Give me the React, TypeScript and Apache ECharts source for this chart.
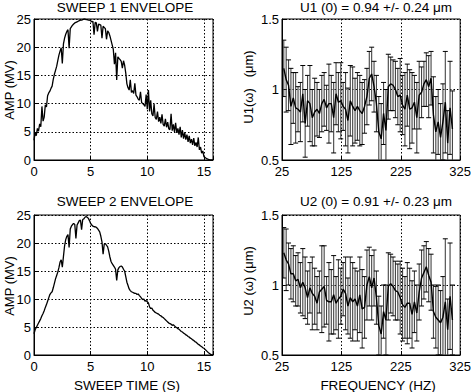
import React, { useEffect, useRef } from "react";
import * as echarts from "echarts";

// ---- data ----
const SWEEP_STEP = 0.1; // seconds between envelope samples
const sweep1Amp = [
  3.5, 4.8, 4.3, 5.6, 5.1, 6.4, 5.9, 9.5, 6.9, 7.6,
  9.8, 9.4, 11.4, 11.9, 12.2, 12.7, 13.1, 14.3, 15.2, 15.9,
  16.6, 17.6, 18.6, 19.3, 19.9, 17.1, 20.6, 21.6, 22.3, 22.8,
  23.1, 19.8, 23.3, 23.6, 23.9, 24.1, 24.3, 24.4, 24.5, 24.6,
  24.7, 24.8, 24.8, 24.9, 25.0, 25.0, 24.9, 24.9, 24.8, 24.8,
  24.7, 24.5, 24.6, 22.2, 24.4, 24.3, 22.8, 24.1, 24.0, 23.9,
  21.6, 23.7, 23.5, 23.3, 21.4, 22.9, 22.6, 22.0, 21.2, 20.4,
  19.6, 17.0, 19.0, 14.2, 18.3, 18.0, 17.8, 17.5, 16.3, 17.6,
  16.8, 15.4, 13.5, 12.8, 12.4, 14.2, 12.0, 12.3, 11.8, 13.6,
  11.5, 11.2, 10.8, 10.6, 12.1, 10.2, 10.0, 9.8, 9.5, 11.6,
  9.0, 12.4, 8.6, 10.6, 8.2, 7.8, 9.9, 7.5, 7.2, 8.6,
  6.8, 7.6, 6.5, 8.1, 6.3, 6.0, 7.3, 5.8, 6.7, 5.5,
  5.4, 8.2, 5.2, 6.3, 5.0, 6.6, 4.8, 5.6, 4.5, 5.9,
  4.0, 5.3, 3.8, 4.9, 3.6, 4.5, 3.2, 4.3, 3.0, 3.7,
  2.7, 3.9, 2.5, 3.1, 2.3, 4.0, 1.8, 2.3, 1.2, 1.6,
  0.6, 0.45, 0.3, 0.2, 0.12, 0.06, 0.03, 0.01, 0.0,
];
const sweep2Amp = [
  3.8, 4.5, 4.9, 5.3, 5.7, 6.1, 6.5, 7.0, 7.4, 7.9,
  8.5, 9.0, 9.6, 10.2, 10.8, 11.1, 11.3, 12.0, 12.8, 13.6,
  14.2, 14.8, 15.6, 16.6, 17.0, 15.7, 17.6, 19.5, 20.6, 21.2,
  21.5, 19.2, 22.5, 23.0, 23.3, 23.5, 23.3, 20.8, 23.2, 23.6,
  24.0, 24.1, 22.4, 24.2, 24.3, 24.6, 24.7, 24.6, 24.4, 24.0,
  23.5, 23.2, 23.0, 22.9, 22.9, 22.8, 22.6, 22.3, 22.0, 21.2,
  20.2, 18.0, 19.8, 19.9, 19.6, 19.3, 18.5, 17.5, 16.7, 16.3,
  16.0, 15.7, 15.3, 13.3, 15.2, 15.6, 15.8, 15.9, 15.7, 15.3,
  15.0, 14.0, 13.0, 12.4, 11.8, 11.5, 11.3, 11.2, 11.1, 11.0,
  11.0, 10.8, 10.9, 10.6, 10.4, 10.1, 9.9, 10.0, 9.6, 9.7,
  9.5, 9.3, 8.6, 8.3, 8.4, 8.0, 7.8, 7.6, 7.5, 7.4,
  7.3, 7.1, 7.0, 6.8, 6.7, 6.5, 6.3, 6.1, 5.9, 5.7,
  5.6, 5.5, 5.3, 5.4, 5.2, 5.0, 4.9, 4.7, 4.6, 4.4,
  4.2, 4.1, 3.9, 3.8, 3.6, 3.5, 3.3, 3.2, 3.0, 2.9,
  2.7, 2.6, 2.4, 2.3, 2.1, 1.9, 1.8, 1.6, 1.5, 1.3,
  1.2, 1.0, 0.8, 0.6, 0.4, 0.25, 0.1, 0.0, 0.0,
];

const freqHz = [
  28, 32, 36, 40, 44, 48, 52, 56, 60, 64, 68, 72, 76, 80, 84, 88, 92, 96,
  100, 104, 108, 112, 116, 120, 124, 128, 132, 136, 140, 144, 148, 152, 156,
  160, 164, 168, 172, 176, 180, 184, 188, 192, 196, 200, 204, 208, 212, 216,
  220, 224, 228, 232, 236, 240, 244, 248, 252, 256, 260, 264, 268, 272, 276,
  280, 284, 288, 292, 296, 300, 304, 308, 312,
];
const u1Mean = [
  1.15, 1.07, 1.03, 0.88, 0.94, 0.87, 0.86, 0.84, 0.97, 0.76,
  0.92, 0.9, 0.8, 0.84, 0.86, 0.83, 0.9, 0.93, 0.87, 0.9,
  0.9, 0.8, 0.97, 0.91, 0.92, 0.88, 0.86, 0.78, 0.92, 0.88,
  0.85, 0.88, 0.85, 0.83, 0.88, 0.95, 1.08, 1.11, 1.02, 0.9,
  0.7, 0.65, 0.83, 0.71, 1.02, 1.04, 1.03, 1.0, 0.95, 0.96,
  0.89, 0.86, 0.96, 0.86, 0.87, 0.91, 0.8, 0.96, 0.98, 1.04,
  1.07, 1.02, 1.08, 0.82, 0.7, 0.77, 0.66, 0.77, 0.91, 0.62,
  0.87, 0.72,
];
const u1Err = [
  0.2, 0.23, 0.18, 0.27, 0.18, 0.25, 0.16, 0.21, 0.2, 0.24,
  0.18, 0.27, 0.2, 0.24, 0.19, 0.17, 0.2, 0.19, 0.16, 0.28,
  0.2, 0.25, 0.22, 0.21, 0.27, 0.17, 0.26, 0.23, 0.25, 0.28,
  0.23, 0.24, 0.25, 0.22, 0.19, 0.2, 0.19, 0.19, 0.18, 0.2,
  0.25, 0.25, 0.22, 0.29, 0.23, 0.19, 0.18, 0.2, 0.2, 0.26,
  0.21, 0.26, 0.22, 0.28, 0.25, 0.19, 0.25, 0.24, 0.18, 0.16,
  0.19, 0.22, 0.19, 0.27, 0.25, 0.23, 0.24, 0.27, 0.36, 0.23,
  0.33, 0.27,
];
const u2Mean = [
  1.23, 1.18, 1.15, 1.08, 1.08, 1.03, 1.04, 0.98, 1.02, 0.98,
  0.91, 0.98, 0.94, 0.92, 0.87, 0.95, 0.97, 0.99, 0.89, 0.88,
  0.88, 0.93, 0.87, 0.9, 0.92, 0.97, 0.94, 0.85, 0.91, 0.88,
  0.9, 0.85, 0.93, 0.83, 0.84, 1.0, 1.06, 0.98, 1.05, 0.91,
  0.71, 0.65, 0.81, 0.75, 0.99, 1.01, 0.99, 0.96, 0.95, 0.91,
  0.86, 0.84, 0.87, 0.87, 0.79, 0.88, 0.8, 0.95, 1.05, 1.09,
  1.13, 1.07, 1.02, 0.81, 0.77, 0.75, 0.73, 0.77, 0.88, 0.68,
  0.92, 0.75,
];
const u2Err = [
  0.18, 0.22, 0.15, 0.18, 0.2, 0.18, 0.19, 0.18, 0.24, 0.22,
  0.19, 0.18, 0.26, 0.2, 0.19, 0.15, 0.31, 0.29, 0.17, 0.28,
  0.23, 0.28, 0.19, 0.28, 0.2, 0.19, 0.26, 0.2, 0.29, 0.28,
  0.22, 0.25, 0.27, 0.28, 0.22, 0.25, 0.21, 0.23, 0.2, 0.19,
  0.21, 0.2, 0.19, 0.25, 0.24, 0.21, 0.21, 0.21, 0.2, 0.26,
  0.26, 0.22, 0.29, 0.25, 0.24, 0.22, 0.2, 0.2, 0.2, 0.19,
  0.18, 0.19, 0.2, 0.19, 0.22, 0.25, 0.23, 0.29, 0.45, 0.22,
  0.38, 0.25,
];

const SWEEP_MAX = 15.8;
const FREQ_MIN = 25;
const FREQ_MAX = 325;

const FONT = "'Liberation Sans', Arial, Helvetica, sans-serif";

const titles = [
  { text: "SWEEP 1 ENVELOPE", x: 125, y: 7 },
  { text: "U1 (0) = 0.94 +/- 0.24 μm", x: 376, y: 7 },
  { text: "SWEEP 2 ENVELOPE", x: 125, y: 201 },
  { text: "U2 (0) = 0.91 +/- 0.23 μm", x: 376, y: 201 },
];
const yNames = [
  { text: "AMP (MV)", x: 9, y: 90 },
  { text: "U1(ω)   (μm)", x: 248, y: 87 },
  { text: "AMP (MV)", x: 9, y: 286 },
  { text: "U2 (ω) (μm)", x: 248, y: 281 },
];
const xNames = [
  { text: "SWEEP TIME (S)", x: 127, y: 385 },
  { text: "FREQUENCY (HZ)", x: 378, y: 385 },
];

const grids = [
  { left: 34, top: 19, width: 179, height: 141 },
  { left: 282, top: 19, width: 181, height: 141 },
  { left: 34, top: 215, width: 179, height: 140 },
  { left: 282, top: 215, width: 181, height: 140 },
];

function envData(arr: number[]) {
  return arr.map((v, i) => [+(i * SWEEP_STEP).toFixed(1), v]);
}

function errData(mean: number[], err: number[]) {
  return freqHz.map((f, i) => [f - FREQ_MIN, mean[i] - err[i], mean[i] + err[i]]);
}
function meanData(mean: number[]) {
  return freqHz.map((f, i) => [f - FREQ_MIN, mean[i]]);
}

function renderErr(params: any, api: any) {
  const x = api.value(0);
  const lo = api.coord([x, api.value(1)]);
  const hi = api.coord([x, api.value(2)]);
  const w = 2.5;
  return {
    type: "group",
    children: [
      {
        type: "line",
        shape: { x1: lo[0], y1: lo[1], x2: hi[0], y2: hi[1] },
        style: { stroke: "#444", lineWidth: 1.1 },
      },
      {
        type: "line",
        shape: { x1: hi[0] - w, y1: hi[1], x2: hi[0] + w, y2: hi[1] },
        style: { stroke: "#000", lineWidth: 1 },
      },
      {
        type: "line",
        shape: { x1: lo[0] - w, y1: lo[1], x2: lo[0] + w, y2: lo[1] },
        style: { stroke: "#000", lineWidth: 1 },
      },
    ],
  };
}

const gridLine = { show: true, lineStyle: { color: "#000", width: 1, type: [1.5, 2] as any } };
const axisCommon = {
  axisLine: { show: true, lineStyle: { color: "#000", width: 1 } },
  axisTick: { show: true, inside: true, length: 4, lineStyle: { color: "#000" } },
  splitLine: gridLine,
};
const labelCommon = { color: "#000", fontSize: 13, fontFamily: FONT };

export default function App() {
  const ref = useRef<HTMLDivElement>(null);
  useEffect(() => {
    document.body.style.margin = "0";
    if (!ref.current) return;
    const chart = echarts.init(ref.current, undefined, { renderer: "svg" });

    const sweepX = (gi: number) => ({
      type: "value",
      gridIndex: gi,
      min: 0,
      max: SWEEP_MAX,
      interval: 5,
      ...axisCommon,
      axisLabel: {
        ...labelCommon,
        margin: 5,
        formatter: (v: number) => (Math.abs(v % 5) < 1e-6 ? String(v) : ""),
      },
    });
    const freqX = (gi: number) => ({
      type: "value",
      gridIndex: gi,
      min: 0,
      max: FREQ_MAX - FREQ_MIN,
      interval: 100,
      ...axisCommon,
      axisLabel: {
        ...labelCommon,
        margin: 5,
        formatter: (v: number) => String(v + FREQ_MIN),
      },
    });
    const ampY = (gi: number) => ({
      type: "value",
      gridIndex: gi,
      min: 0,
      max: 25,
      interval: 5,
      ...axisCommon,
      axisLabel: { ...labelCommon, margin: 3 },
    });
    const uY = (gi: number) => ({
      type: "value",
      gridIndex: gi,
      min: 0.5,
      max: 1.5,
      interval: 0.5,
      ...axisCommon,
      axisLabel: { ...labelCommon, margin: 3 },
    });

    const textEl = (t: { text: string; x: number; y: number }, rot = 0, size = 13) => ({
      type: "text",
      x: t.x,
      y: t.y,
      rotation: rot,
      style: {
        text: t.text,
        fill: "#000",
        font: `${size}px ${FONT}`,
        textAlign: "center",
        textVerticalAlign: "middle",
      },
    });

    chart.setOption({
      animation: false,
      backgroundColor: "#fff",
      grid: grids.map((g) => ({ ...g, show: true, borderColor: "#000", borderWidth: 1, backgroundColor: "transparent" })),
      xAxis: [sweepX(0), freqX(1), sweepX(2), freqX(3)],
      yAxis: [ampY(0), uY(1), ampY(2), uY(3)],
      series: [
        {
          type: "line",
          xAxisIndex: 0,
          yAxisIndex: 0,
          data: envData(sweep1Amp),
          symbol: "none",
          lineStyle: { color: "#000", width: 1.3 },
        },
        {
          type: "custom",
          xAxisIndex: 1,
          yAxisIndex: 1,
          data: errData(u1Mean, u1Err),
          renderItem: renderErr,
          clip: true,
          encode: { x: 0, y: [1, 2] },
        },
        {
          type: "line",
          xAxisIndex: 1,
          yAxisIndex: 1,
          data: meanData(u1Mean),
          symbol: "none",
          lineStyle: { color: "#000", width: 1.4 },
        },
        {
          type: "line",
          xAxisIndex: 2,
          yAxisIndex: 2,
          data: envData(sweep2Amp),
          symbol: "none",
          lineStyle: { color: "#000", width: 1.3 },
        },
        {
          type: "custom",
          xAxisIndex: 3,
          yAxisIndex: 3,
          data: errData(u2Mean, u2Err),
          renderItem: renderErr,
          clip: true,
          encode: { x: 0, y: [1, 2] },
        },
        {
          type: "line",
          xAxisIndex: 3,
          yAxisIndex: 3,
          data: meanData(u2Mean),
          symbol: "none",
          lineStyle: { color: "#000", width: 1.4 },
        },
      ],
      graphic: [
        ...titles.map((t) => textEl(t, 0, 13.5)),
        ...yNames.map((t) => textEl(t, Math.PI / 2)),
        ...xNames.map((t) => textEl(t, 0, 13.5)),
      ],
    });
    return () => chart.dispose();
  }, []);
  return <div ref={ref} style={{ width: 474, height: 392 }} />;
}
